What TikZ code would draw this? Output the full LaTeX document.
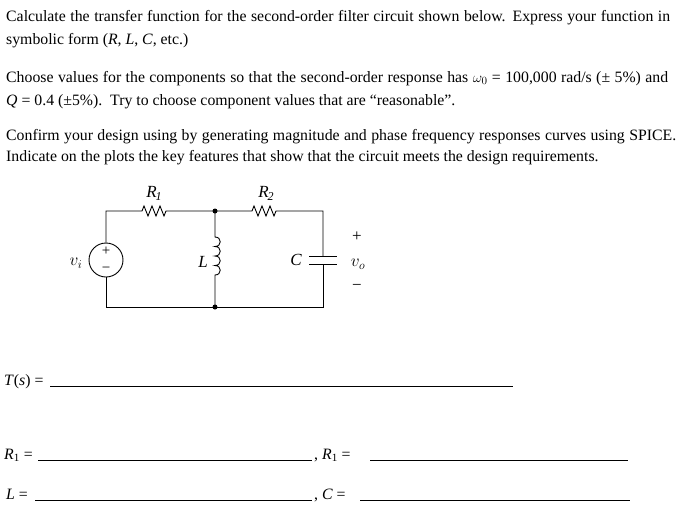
\documentclass[tikz,border=0pt]{standalone}
\usepackage{fontspec}
\setmainfont{Liberation Serif}
\begin{document}
\begin{tikzpicture}[x=1pt,y=-1pt,
  txt/.style={anchor=base west,inner sep=0pt,font=\fontsize{15.8}{17}\selectfont},
  lbl/.style={font=\fontsize{17}{17}\selectfont},
  wire/.style={line width=0.9pt},
  blank/.style={line width=0.6pt},
  dot/.style={circle,fill,inner sep=0pt,minimum size=5pt}]
\path[fill=white] (0,0) rectangle (681,509);
\node[txt] (l1) at (6,21) {\makebox[664pt][s]{Calculate the transfer function for the second-order filter circuit shown below. Express your function in}};
\node[txt] (l2) at (6,44) {symbolic form (\textit{R}, \textit{L}, \textit{C}, etc.)};
\node[txt] (l3) at (6,82) {\makebox[662pt][s]{Choose values for the components so that the second-order response has $\omega_0$ = 100,000 rad/s (± 5\%) and}};
\node[txt] (l4) at (6,105) {\textit{Q} = 0.4 (±5\%).\ \ Try to choose component values that are “reasonable”.};
\node[txt] (l5) at (6,140) {\makebox[670pt][s]{Confirm your design using by generating magnitude and phase frequency responses curves using SPICE.}};
\node[txt] (l6) at (6,161) {Indicate on the plots the key features that show that the circuit meets the design requirements.};
% circuit
\coordinate (tl) at (106,211); \coordinate (tm) at (215,211); \coordinate (tr) at (323,211);
\coordinate (bl) at (106,307); \coordinate (bm) at (215,307); \coordinate (br) at (323,307);
\node[circle,draw,wire,minimum size=34pt,inner sep=0pt] (src) at (106,260) {};
\node[font=\fontsize{15}{15}\selectfont,inner sep=0pt] at (106,251) {+};
\node[font=\fontsize{15}{15}\selectfont,inner sep=0pt] at (106,270) {−};
\draw[wire] (src.north) -- (tl) -- (142,211)
  -- (144,206) -- (148,216) -- (152,206) -- (156,216) -- (160,206) -- (164,216) -- (166,211) -- (tm);
\draw[wire] (tm) -- (252,211)
  -- (254,206) -- (258,216) -- (262,206) -- (266,216) -- (270,206) -- (274,216) -- (276,211) -- (tr) -- (323,256);
\draw[wire] (src.south) -- (bl) -- (br) -- (323,264);
\draw[wire] (309,256) -- (337,256);
\draw[wire] (309,264) -- (337,264);
\draw[wire] (tm) -- (215,237)
  .. controls (222,237) and (222,246.5) .. (215,246.5)
  .. controls (222,246.5) and (222,256) .. (215,256)
  .. controls (222,256) and (222,265.5) .. (215,265.5)
  .. controls (222,265.5) and (222,275) .. (215,275)
  -- (bm);
\node[dot] at (tm) {}; \node[dot] at (bm) {};
\node[lbl] at (154,193) {\textit{R}\kern-1pt\raisebox{-3pt}{\fontsize{12}{12}\selectfont\textit{1}}};
\node[lbl] at (266,193) {\textit{R}\kern-1pt\raisebox{-3pt}{\fontsize{12}{12}\selectfont\textit{2}}};
\node[lbl] at (76,263) {$v_i$};
\node[lbl] at (203,262) {\textit{L}};
\node[lbl] at (296,260) {\textit{C}};
\node[lbl] at (357,237) {+};
\node[lbl] at (358,264) {$v_o$};
\node[lbl] at (357,287) {−};
% blanks
\node[txt] (t) at (4,385) {\textit{T}(\textit{s}) =};
\draw[blank] (50,386) -- (513,386);
\node[txt] (r1) at (4,459) {\textit{R}\textsubscript{1} =};
\draw[blank] (38,460) -- (312,460);
\node[txt] (r2) at (314,459) {, \textit{R}\textsubscript{1} =};
\draw[blank] (370,460) -- (628,460);
\node[txt] (lb) at (6,499) {\textit{L} =};
\draw[blank] (35,500) -- (312,500);
\node[txt] (cb) at (314,499) {, \textit{C} =};
\draw[blank] (360,500) -- (630,500);
\end{tikzpicture}
\end{document}
